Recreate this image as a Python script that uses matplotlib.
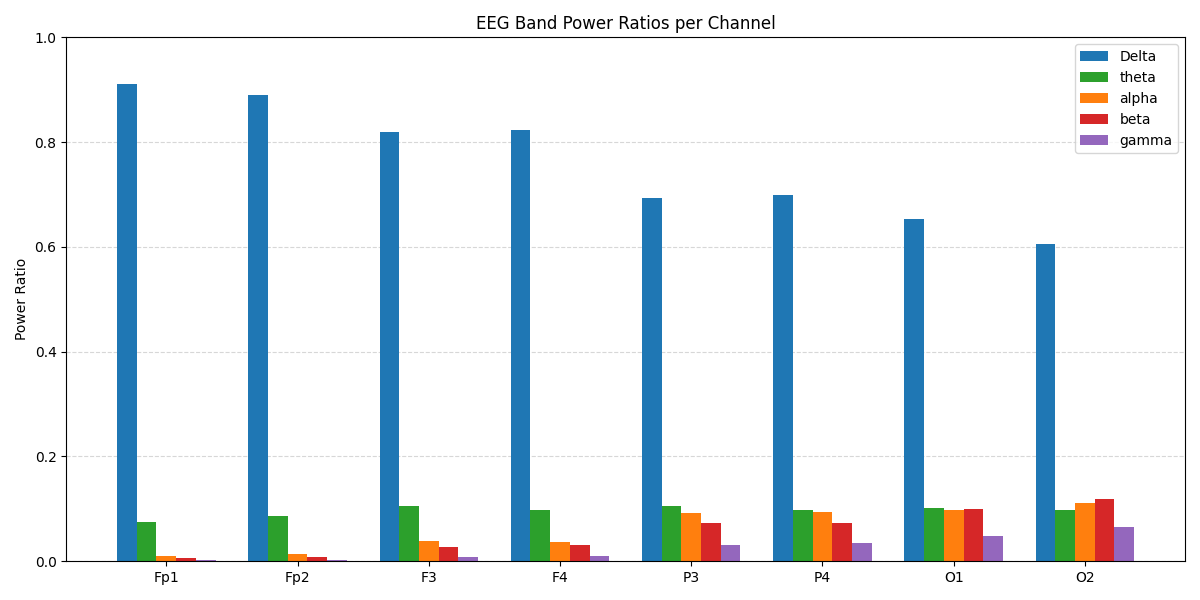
import numpy as np
import matplotlib.pyplot as plt

channels = ['Fp1', 'Fp2', 'F3', 'F4', 'P3', 'P4', 'O1', 'O2']
delta = [0.910, 0.889, 0.819, 0.823, 0.693, 0.700, 0.653, 0.605]
theta = [0.075, 0.086, 0.105, 0.097, 0.105, 0.097, 0.101, 0.097]
alpha = [0.0095, 0.013, 0.038, 0.036, 0.092, 0.095, 0.097, 0.111]
beta = [0.006, 0.008, 0.027, 0.031, 0.074, 0.073, 0.099, 0.118]
gamma = [0.002, 0.002, 0.008, 0.010, 0.032, 0.034, 0.048, 0.065]

bands = [('Delta', delta, '#1f77b4'), ('theta', theta, '#2ca02c'),
         ('alpha', alpha, '#ff7f0e'), ('beta', beta, '#d62728'),
         ('gamma', gamma, '#9467bd')]

x = np.arange(len(channels))
width = 0.15

fig, ax = plt.subplots(figsize=(12, 6), dpi=100)
for i, (name, vals, color) in enumerate(bands):
    ax.bar(x + (i - 2) * width, vals, width, label=name, color=color)

ax.set_xticks(x)
ax.set_xticklabels(channels)
ax.set_ylim(0, 1)
ax.set_ylabel('Power Ratio')
ax.set_title('EEG Band Power Ratios per Channel')
ax.grid(axis='y', linestyle='--', alpha=0.5)
ax.set_axisbelow(True)
ax.legend(loc='upper right')

plt.tight_layout()
plt.savefig('out.png')
